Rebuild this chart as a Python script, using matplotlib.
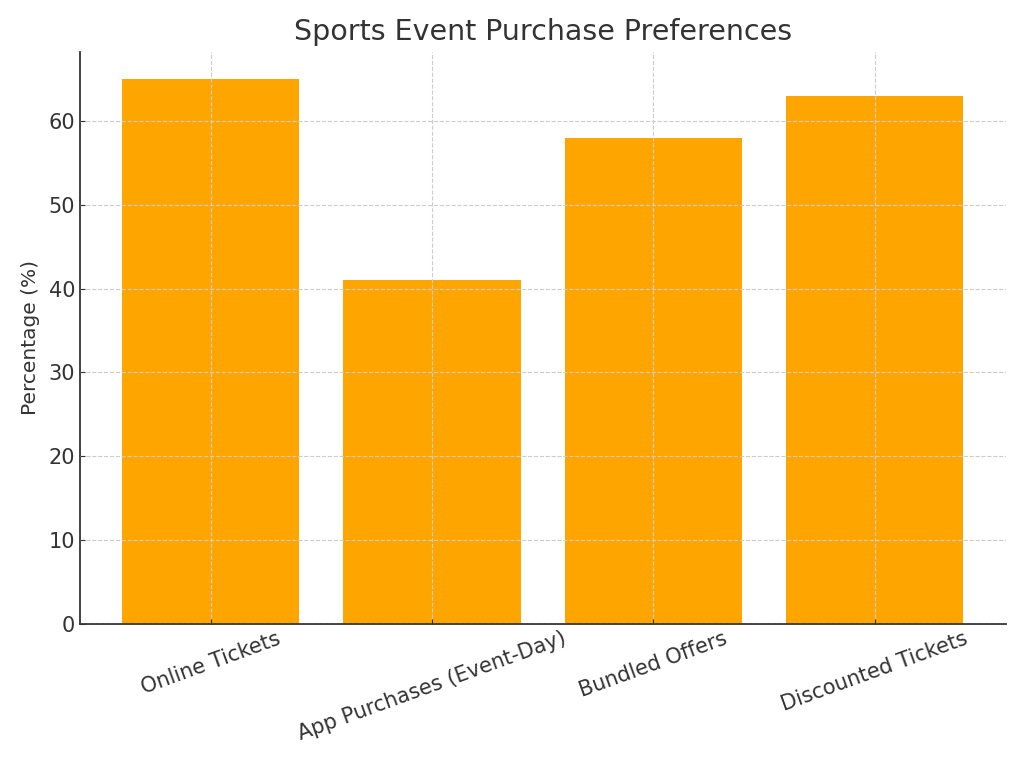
import matplotlib.pyplot as plt

categories = ['Online Tickets', 'App Purchases (Event-Day)', 'Bundled Offers', 'Discounted Tickets']
percentages = [65, 41, 58, 63]

plt.rcParams['font.family'] = ['DejaVu Sans']
text_color = '#333333'

fig, ax = plt.subplots(figsize=(10.24, 7.68), dpi=100)
ax.bar(categories, percentages, color='#FFA500', width=0.8)

ax.set_title('Sports Event Purchase Preferences', fontsize=20.5, color=text_color, pad=9)
ax.set_ylabel('Percentage (%)', fontsize=14.5, color=text_color, labelpad=6)
ax.tick_params(axis='both', labelsize=15, colors=text_color, direction='in')
plt.setp(ax.get_xticklabels(), rotation=20, ha='center')

ax.grid(True, linestyle='--', color='#cccccc', linewidth=0.8)
ax.set_axisbelow(False)
ax.spines['top'].set_visible(False)
ax.spines['right'].set_visible(False)
for side in ['left', 'bottom']:
    ax.spines[side].set_color(text_color)
    ax.spines[side].set_linewidth(1.3)

fig.subplots_adjust(left=0.078, right=0.982, top=0.932, bottom=0.188)
fig.savefig('out.png')
